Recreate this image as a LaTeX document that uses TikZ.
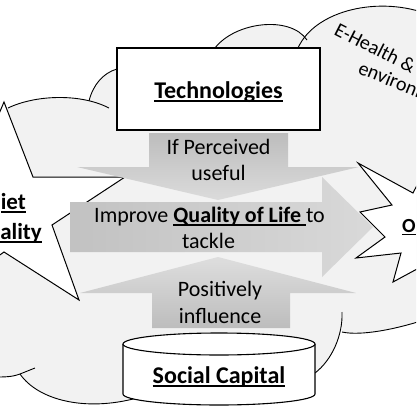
\documentclass[tikz,border=0pt]{standalone}
\usepackage{fontspec}
\setmainfont{Carlito}
\usetikzlibrary{shapes.geometric}
\newsavebox{\ulbox}
\newcommand{\myul}[1]{\sbox{\ulbox}{#1}\rlap{\rule[-0.17em]{\wd\ulbox}{0.075em}}\usebox{\ulbox}}
\tikzset{
  cloudfill/.style={fill=black!5, draw=none},
  cloudline/.style={draw=black, line width=0.9pt},
  burst/.style={fill=white, draw=black, line width=1pt, line join=miter},
  lbl/.style={font=\fontsize{22}{26}\selectfont, inner sep=0pt, anchor=base},
  bigbold/.style={font=\fontsize{24}{28}\selectfont\bfseries, inner sep=0pt, anchor=base},
  sidebold/.style={font=\fontsize{23}{27}\selectfont\bfseries, inner sep=0pt},
  ehtext/.style={font=\fontsize{20}{24}\selectfont, inner sep=0pt, anchor=base west},
  shapeline/.style={draw=black, line width=1.1pt},
}
\begin{document}
\begin{tikzpicture}[x=1pt,y=-1pt]
\useasboundingbox (0,0) rectangle (416,416);
\clip (0,0) rectangle (416,416);
% cloud fill
\path[cloudfill] (-5,112) -- (8,108) .. controls (35,95) and (80,93) .. (109,108) -- (117,108) -- (117,48) -- (430,48) -- (430,318) .. controls (395,330) and (360,336) .. (342,332) -- (342,312) .. controls (343,335) and (332,360) .. (315,373) -- (137,398) .. controls (85,412) and (38,400) .. (20,374) .. controls (12,377) and (5,377) .. (-5,377) -- cycle;
\path[cloudfill] (89,101) .. controls (93,85) and (103,73) .. (117,69) -- (117,110) -- (89,110) -- cycle;
\path[cloudfill] (215,48) .. controls (235,22) and (290,15) .. (307,40) -- (307,48) -- cycle;
\path[cloudfill] (298,48) .. controls (315,10) and (380,-5) .. (430,15) -- (430,48) -- cycle;
% cloud outline
\draw[cloudline] (8,108) .. controls (35,95) and (80,93) .. (109,108);
\draw[cloudline] (89,101) .. controls (93,85) and (103,73) .. (117,69);
\draw[cloudline] (215,48) .. controls (235,22) and (290,15) .. (307,40);
\draw[cloudline] (298,48) .. controls (315,10) and (380,-5) .. (430,15);
\draw[cloudline] (342,332) .. controls (360,336) and (395,330) .. (430,318);
\draw[cloudline] (342,312) .. controls (343,335) and (332,360) .. (315,373);
\draw[cloudline] (20,374) .. controls (38,400) and (85,412) .. (137,398);
\draw[cloudline] (20,374) .. controls (12,377) and (5,377) .. (-5,377);
\draw[cloudline] (20,374) -- (35,368);
% starbursts
\draw[burst] (-10,135) -- (4,102) -- (33,177) -- (125,177) -- (52,225) -- (79,300) -- (4,252) -- (-10,262) -- cycle;
\draw[burst] (430,160) -- (413,193) -- (358,163) -- (392,205) -- (360,212) -- (385,237) -- (356,258) -- (401,253) -- (393,282) -- (430,262) -- cycle;
% arrows
\path[left color=black!24, right color=black!15] (70,202) -- (322,202) -- (322,177) -- (373,227) -- (322,277) -- (322,252) -- (70,252) -- cycle;
\path[top color=black!26, bottom color=black!14] (149,133) -- (288,133) -- (288,167) -- (359,167) -- (218,200) -- (77,167) -- (149,167) -- cycle;
\path[bottom color=black!26, top color=black!13] (152,328) -- (290,328) -- (290,293) -- (356,293) -- (218,257) -- (80,293) -- (152,293) -- cycle;
% technologies box
\node[shapeline, fill=white, minimum width=203pt, minimum height=82pt, inner sep=0pt] (techbox) at (218.5,89) {};
\node[bigbold] (tech) at (218.5,98) {\myul{Technologies}};
% cylinder
\path[fill=white] (123,344) -- (123,394) arc[start angle=180, end angle=0, x radius=96, y radius=11] -- (315,344) -- cycle;
\draw[shapeline] (123,344) -- (123,394) arc[start angle=180, end angle=0, x radius=96, y radius=11] -- (315,344);
\draw[shapeline, fill=white] (219,344) ellipse[x radius=96, y radius=11];
\node[bigbold] (soc) at (219,383) {\myul{Social Capital}};
% arrow texts
\node[lbl] (ifp) at (218.5,154) {If Perceived};
\node[lbl] (use) at (218.5,180) {useful};
\node[lbl] (imp) at (209.5,222) {Improve \myul{\textbf{Quality of Life }}to};
\node[lbl] (tac) at (208.5,248) {tackle};
\node[lbl] (pos) at (220,296) {Positively};
\node[lbl] (inf) at (220,323) {influence};
% side texts
\node[sidebold, anchor=base east] (diet) at (26,209) {\myul{iet}};
\node[sidebold, anchor=base east] (qual) at (42,239) {\myul{ality}};
\node[sidebold, font=\fontsize{20}{24}\selectfont\bfseries, anchor=base west] (obes) at (402,232) {\myul{O}};
% e-health
\node[ehtext, rotate=-27] (eh1) at (333,34) {E-Health \&};
\node[ehtext, rotate=-22] (eh2) at (357,73) {environment};
\end{tikzpicture}
\end{document}
